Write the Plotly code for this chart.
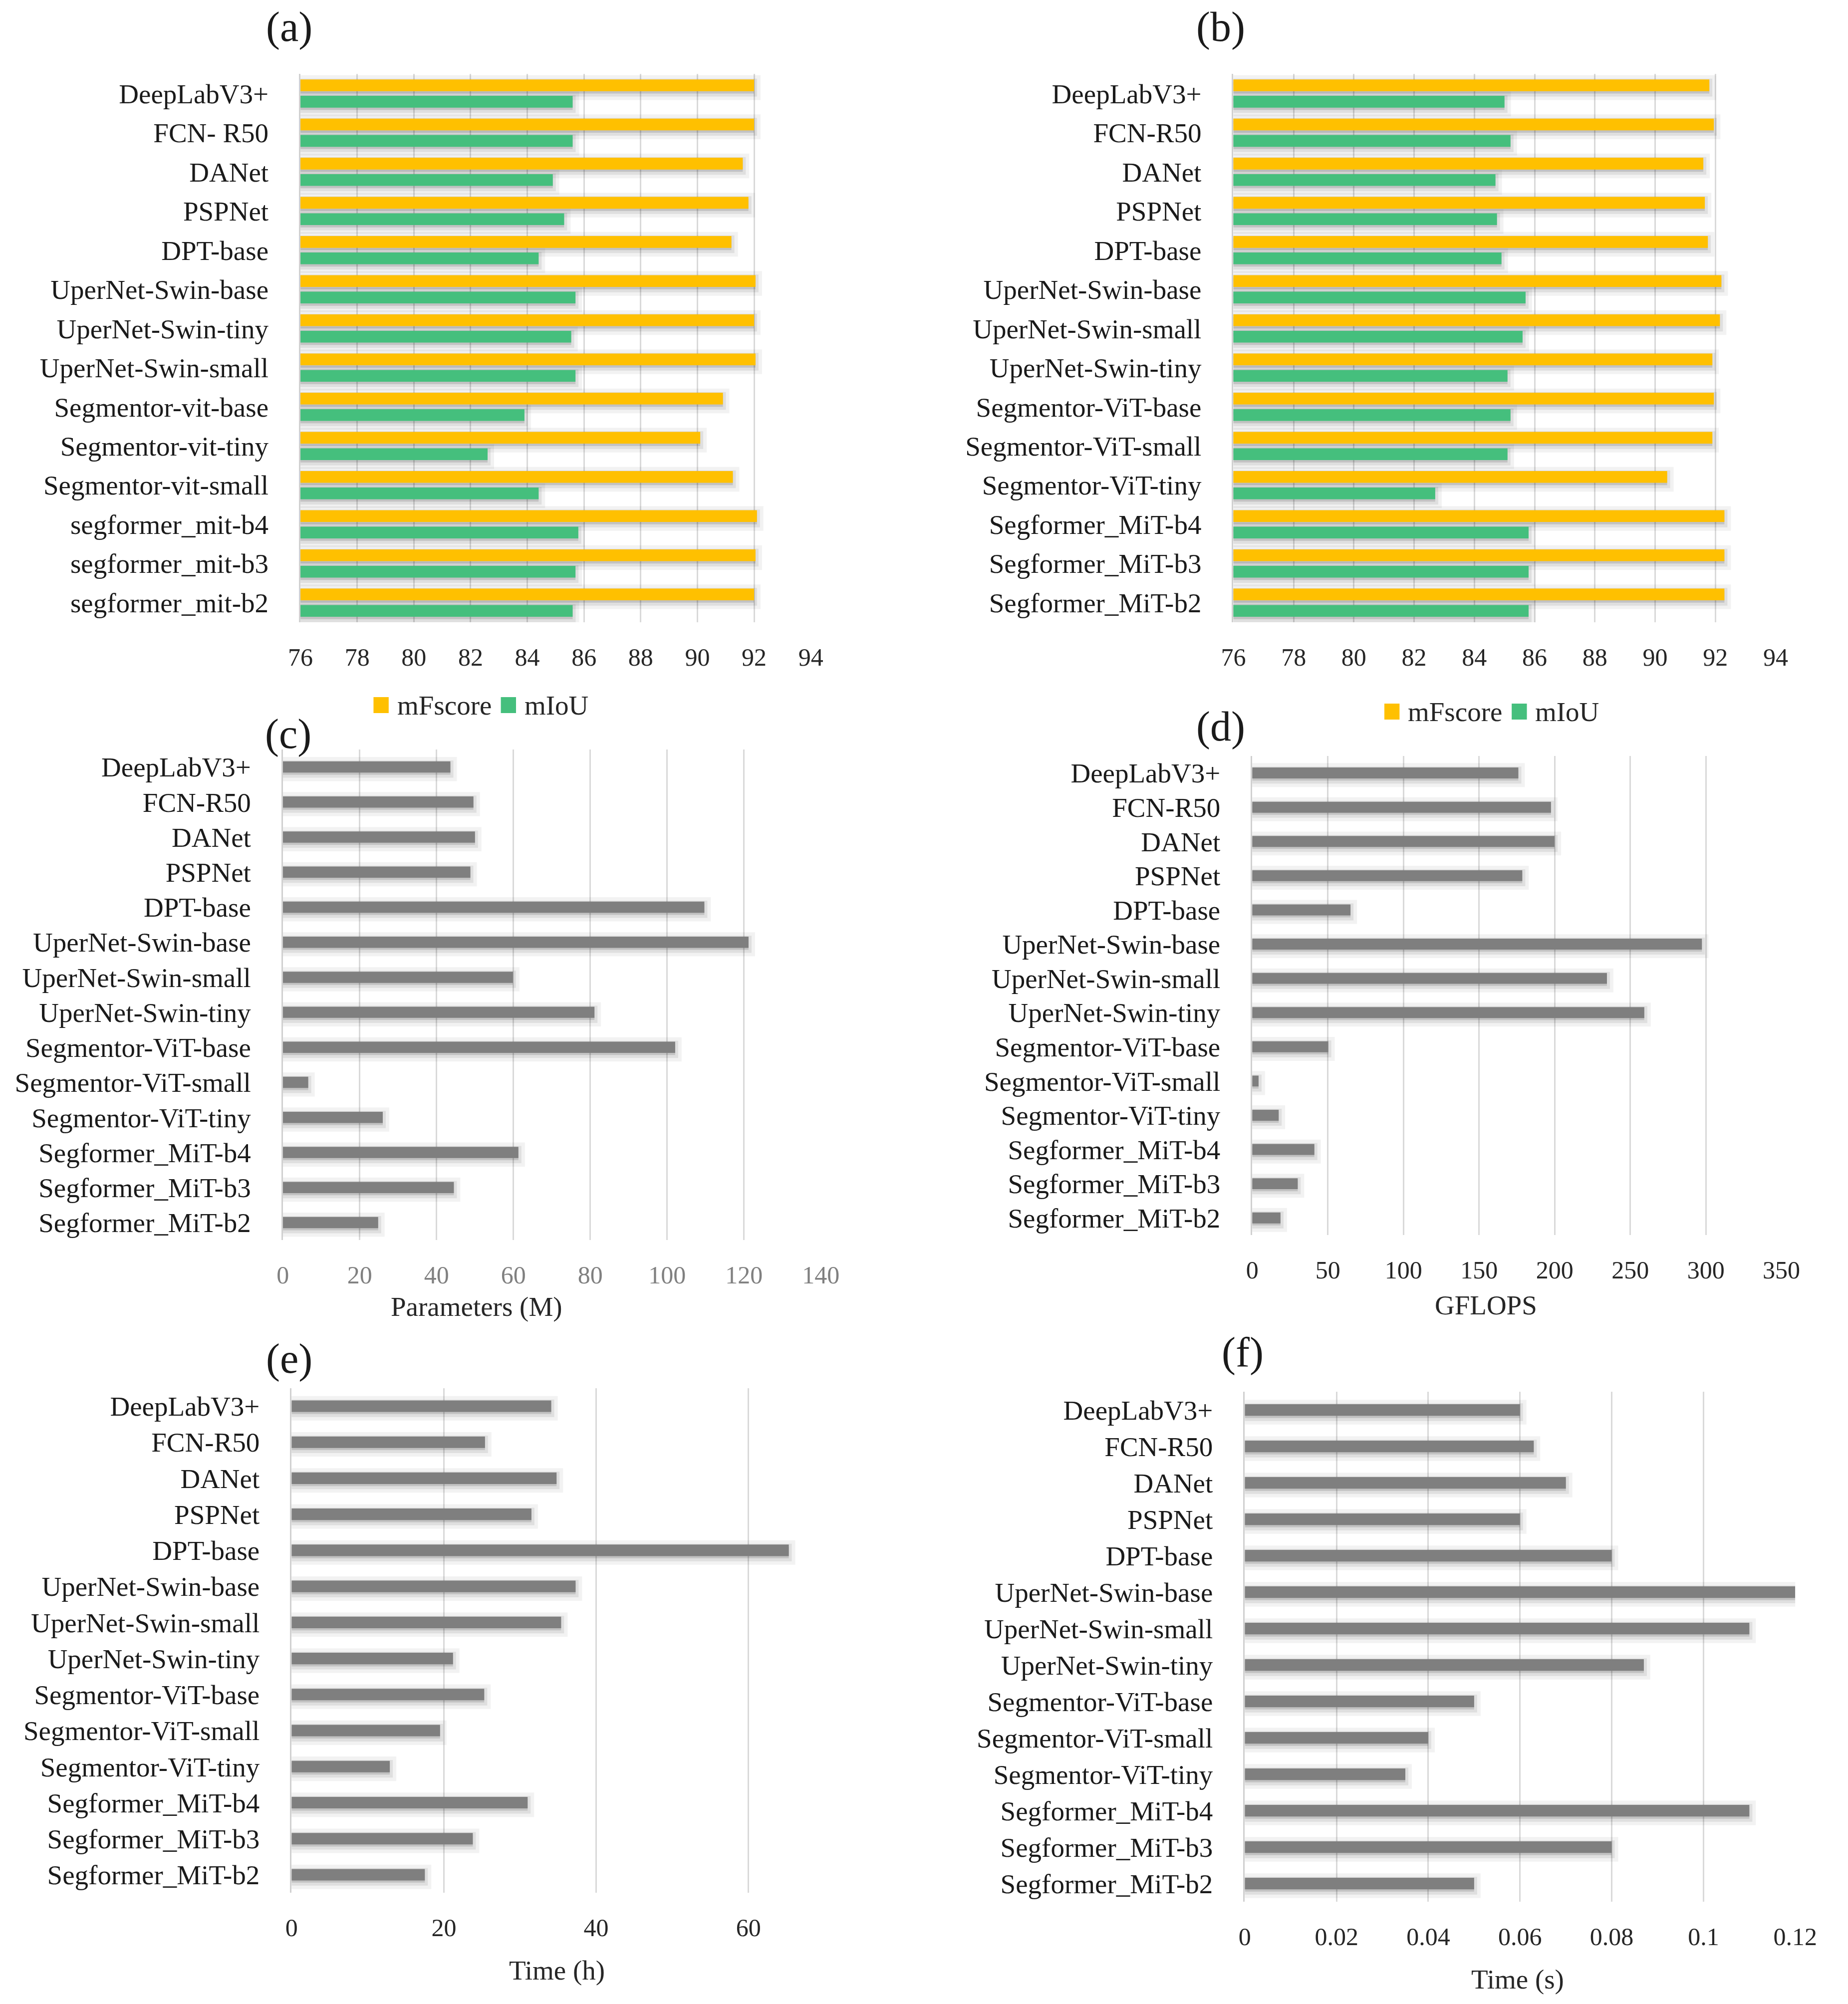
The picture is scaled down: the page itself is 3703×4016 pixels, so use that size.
import plotly.graph_objects as go

# ── data ───────────────────────────────────────────────────────────────────────
models_a = ["DeepLabV3+", "FCN- R50", "DANet", "PSPNet", "DPT-base",
            "UperNet-Swin-base", "UperNet-Swin-tiny", "UperNet-Swin-small",
            "Segmentor-vit-base", "Segmentor-vit-tiny", "Segmentor-vit-small",
            "segformer_mit-b4", "segformer_mit-b3", "segformer_mit-b2"]
mfscore_a = [92.0, 92.0, 91.6, 91.8, 91.2, 92.05, 92.0, 92.05, 90.9, 90.1, 91.25, 92.1, 92.05, 92.0]
miou_a = [85.6, 85.6, 84.9, 85.3, 84.4, 85.7, 85.55, 85.7, 83.9, 82.6, 84.4, 85.8, 85.7, 85.6]

# same model order is used by (b) to (f)
models = ["DeepLabV3+", "FCN-R50", "DANet", "PSPNet", "DPT-base",
          "UperNet-Swin-base", "UperNet-Swin-small", "UperNet-Swin-tiny",
          "Segmentor-ViT-base", "Segmentor-ViT-small", "Segmentor-ViT-tiny",
          "Segformer_MiT-b4", "Segformer_MiT-b3", "Segformer_MiT-b2"]
mfscore_b = [91.8, 91.95, 91.6, 91.65, 91.75, 92.2, 92.15, 91.9, 91.95, 91.9, 90.4, 92.3, 92.3, 92.3]
miou_b = [85.0, 85.2, 84.7, 84.75, 84.9, 85.7, 85.6, 85.1, 85.2, 85.1, 82.7, 85.8, 85.8, 85.8]

params_m = [43.6, 49.6, 50.0, 48.8, 109.7, 121.2, 59.9, 81.1, 102.1, 6.6, 26.0, 61.3, 44.5, 24.8]
gflops = [176, 197.6, 200, 178.6, 65, 297.4, 234.6, 259.3, 50.3, 4.2, 17.5, 41.1, 30.1, 18.7]
train_h = [34.1, 25.4, 34.8, 31.5, 65.3, 37.3, 35.4, 21.2, 25.3, 19.5, 12.9, 31.0, 23.8, 17.5]
infer_s = [0.060, 0.063, 0.070, 0.060, 0.080, 0.120, 0.110, 0.087, 0.050, 0.040, 0.035, 0.110, 0.080, 0.050]

# ── styling ────────────────────────────────────────────────────────────────────
FONT = "Liberation Serif"
ORANGE = "#FFC000"
GREEN = "#45BF7D"
GREY = "#7F7F7F"
W, H = 3703, 4016

fig = go.Figure()


def shadows(x, y, xa, ya, width, offset):
    # two soft layers faking the blurred Excel drop shadow
    out = []
    for lw, alpha in ((26, 0.05), (12, 0.08)):
        col = f"rgba(0,0,0,{alpha})"
        out.append(go.Bar(x=x, y=y, orientation="h", xaxis=xa, yaxis=ya,
                          width=width, offset=offset + 0.06,
                          marker=dict(color=col, line=dict(color=col, width=lw)),
                          showlegend=False, hoverinfo="skip"))
    return out


# (a) and (b): paired bars
for i, (cats, mf, mi) in enumerate([(models_a, mfscore_a, miou_a),
                                    (models, mfscore_b, miou_b)]):
    xa, ya = f"x{i + 1}", f"y{i + 1}"
    fig.add_traces(shadows(mf, cats, xa, ya, 0.3, -0.36))
    fig.add_traces(shadows(mi, cats, xa, ya, 0.3, 0.06))
    fig.add_trace(go.Bar(x=mf, y=cats, orientation="h", xaxis=xa, yaxis=ya,
                         width=0.3, offset=-0.36, name="mFscore", showlegend=False,
                         marker=dict(color=ORANGE, line_width=0)))
    fig.add_trace(go.Bar(x=mi, y=cats, orientation="h", xaxis=xa, yaxis=ya,
                         width=0.3, offset=0.06, name="mIoU", showlegend=False,
                         marker=dict(color=GREEN, line_width=0)))

# (c)-(f): single grey bars
for i, vals in enumerate([params_m, gflops, train_h, infer_s]):
    xa, ya = f"x{i + 3}", f"y{i + 3}"
    fig.add_traces(shadows(vals, models, xa, ya, 0.32, -0.16))
    fig.add_trace(go.Bar(x=vals, y=models, orientation="h", xaxis=xa, yaxis=ya,
                         width=0.32, offset=-0.16, showlegend=False,
                         marker=dict(color=GREY, line_width=0)))

# panel geometry in paper fractions: (x0, x1, y0, y1)
panels = {
    1: (0.1566, 0.438, 0.6915, 0.9651),
    2: (0.671, 0.970, 0.6915, 0.9651),
    3: (0.1469, 0.4435, 0.3832, 0.628),
    4: (0.6814, 0.9732, 0.3857, 0.6248),
    5: (0.1517, 0.4456, 0.0575, 0.3093),
    6: (0.6773, 0.9808, 0.053, 0.3075),
}
xranges = {1: [76, 94], 2: [76, 94], 3: [0, 140], 4: [0, 350], 5: [0, 70], 6: [0, 0.12]}
dticks = {1: 2, 2: 2, 3: 20, 4: 50, 5: 20, 6: 0.02}
tickcol = {1: "#262626", 2: "#262626", 3: "#808080", 4: "#262626", 5: "#262626", 6: "#262626"}

layout_axes = {}
for k, (x0, x1, y0, y1) in panels.items():
    sx = "" if k == 1 else str(k)
    layout_axes[f"xaxis{sx}"] = dict(
        domain=[x0, x1], anchor=f"y{k}", range=xranges[k], dtick=dticks[k],
        showgrid=True, gridcolor="#D9D9D9", gridwidth=3, zeroline=False,
        showline=False, ticks="", ticklabelstandoff=36,
        tickfont=dict(family=FONT, size=50, color=tickcol[k]),
        tickformat="~g" if k == 6 else None,
    )
    layout_axes[f"yaxis{sx}"] = dict(
        domain=[y0, y1], anchor=f"x{k}", autorange="reversed", type="category",
        showgrid=False, zeroline=False, showline=True, linecolor="#D0D0D0", linewidth=3,
        ticks="", ticklabelstandoff=50,
        tickfont=dict(family=FONT, size=55, color="#1a1a1a"),
    )

labels = [("(a)", 0.1504, 0.9885), ("(b)", 0.664, 0.9885), ("(c)", 0.1497, 0.6357),
          ("(d)", 0.664, 0.6394), ("(e)", 0.1504, 0.324), ("(f)", 0.676, 0.3272)]
annotations = [dict(text=t, x=x, y=y, xref="paper", yref="paper", showarrow=False,
                    xanchor="center", yanchor="middle",
                    font=dict(family=FONT, size=84, color="#1a1a1a"))
               for t, x, y in labels]
axis_titles = [("Parameters (M)", 0.2538, 0.350), ("GFLOPS", 0.8104, 0.3507),
               ("Time (h)", 0.298, 0.0187), ("Time (s)", 0.8277, 0.0142)]
annotations += [dict(text=t, x=x, y=y, xref="paper", yref="paper", showarrow=False,
                     xanchor="center", yanchor="middle",
                     font=dict(family=FONT, size=55, color="#262626"))
                for t, x, y in axis_titles]

# hand-drawn legends for (a) and (b): (x of orange square in px, y centre in px)
shapes = []
for lx, ly in ((729, 1405), (2793, 1418)):
    for dx, col, name, tx in ((0, ORANGE, "mFscore", 46), (260, GREEN, "mIoU", 306)):
        x0 = lx + dx
        shapes.append(dict(type="rect", xref="paper", yref="paper",
                           x0=x0 / W, x1=(x0 + 31) / W,
                           y0=1 - (ly + 16) / H, y1=1 - (ly - 16) / H,
                           fillcolor=col, line_width=0))
        annotations.append(dict(text=name, x=(lx + tx) / W, y=1 - ly / H,
                                xref="paper", yref="paper", showarrow=False,
                                xanchor="left", yanchor="middle",
                                font=dict(family=FONT, size=55, color="#262626")))

fig.update_layout(
    width=W, height=H,
    margin=dict(l=0, r=0, t=0, b=0),
    paper_bgcolor="white", plot_bgcolor="white",
    barmode="overlay",
    showlegend=False,
    annotations=annotations,
    shapes=shapes,
    **layout_axes,
)

fig.write_html("out.html")
